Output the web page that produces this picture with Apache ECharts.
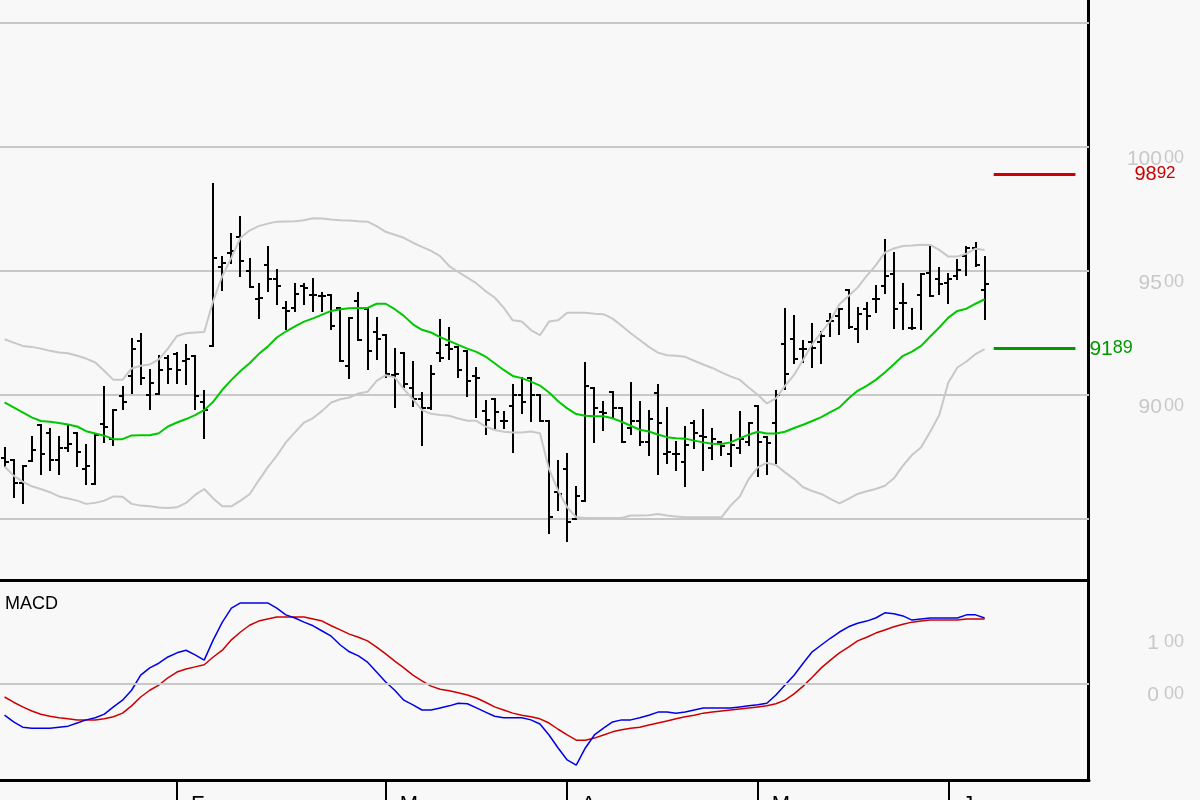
<!DOCTYPE html>
<html>
<head>
<meta charset="utf-8">
<script src="https://cdn.jsdelivr.net/npm/echarts@6/dist/echarts.min.js"></script>
<style>
html, body { margin: 0; padding: 0; background: #f8f8f8; }
#container { width: 1200px; height: 800px; }
</style>
</head>
<body>
<div id="container"></div>
<script>
var dom = document.getElementById("container");
var myChart = echarts.init(dom);

// 109 trading days + empty slots on the right
var slotCount = 120;
var opens  = [8744,8738,8645,8735,8880,8846,8738,8785,8846,8701,8641,8883,8822,8997,9075,9218,8999,9004,9151,9164,9138,9158,8970,9198,9516,9572,9637,9500,9386,9523,9466,9352,9352,9440,9402,9398,9402,9352,9115,9380,9348,9254,9241,9080,9171,9030,8983,8947,9168,9200,9195,9178,9075,8936,8983,8896,8956,8999,9067,8999,8896,8610,8701,8500,8574,9030,8930,9013,8946,8865,8896,8812,9008,8762,8762,8728,8887,8833,8785,8812,8762,8785,8812,8956,8829,8887,9207,9225,9185,9215,9215,9299,9319,9424,9268,9346,9386,9440,9487,9370,9272,9403,9493,9469,9453,9480,9560,9594,9424];
var highs  = [8785,8738,8715,8832,8880,8863,8832,8876,8846,8798,8840,9034,8939,9034,9225,9245,9101,9158,9158,9168,9201,9158,9017,9849,9556,9649,9717,9548,9446,9597,9503,9373,9446,9446,9469,9410,9402,9352,9312,9410,9348,9312,9241,9185,9171,9134,9010,9118,9303,9269,9195,9178,9107,8977,8983,8932,9040,9067,9067,8999,8896,8735,8762,8628,9131,9030,8970,9013,8946,9048,8970,8936,9040,8946,8809,8869,8896,8939,8863,8812,8838,8932,8887,8956,8829,9017,9346,9319,9218,9285,9254,9326,9348,9424,9352,9370,9440,9625,9571,9446,9346,9487,9597,9513,9487,9544,9597,9614,9558];
var lows   = [8715,8587,8563,8735,8681,8697,8681,8775,8715,8641,8641,8812,8798,8943,9010,9044,8943,9004,9050,9050,9044,8943,8825,9198,9423,9533,9480,9436,9312,9419,9366,9265,9339,9366,9339,9339,9265,9138,9068,9222,9104,9144,9071,8950,9034,8956,8798,8943,9138,9144,9071,8997,8913,8842,8865,8865,8771,8927,8896,8896,8444,8536,8413,8500,8574,8809,8860,8910,8809,8842,8798,8758,8681,8726,8697,8634,8785,8697,8742,8758,8715,8766,8798,8675,8681,8726,9026,9128,9135,9111,9128,9236,9245,9272,9214,9265,9335,9413,9272,9265,9265,9265,9399,9406,9372,9469,9482,9520,9305];
var closes = [8731,8645,8715,8778,8762,8738,8785,8801,8769,8715,8840,8869,8939,8970,9185,9068,9048,9101,9104,9101,9144,8997,8939,9554,9532,9580,9540,9436,9390,9469,9440,9340,9406,9430,9402,9398,9280,9138,9312,9222,9178,9225,9084,9084,9044,8983,8947,9084,9151,9185,9101,9057,9068,8900,8930,8896,8999,8970,9000,8896,8507,8601,8489,8591,9037,8946,8927,8946,8812,8896,8809,8905,8887,8770,8762,8800,8846,8830,8822,8795,8798,8822,8887,8812,8806,9000,9083,9147,9185,9191,9238,9300,9346,9276,9326,9319,9386,9480,9346,9370,9272,9487,9399,9446,9469,9504,9594,9525,9446];

var sma = [8970,8950,8930,8910,8895,8892,8887,8881,8873,8854,8845,8836,8822,8822,8837,8838,8838,8846,8873,8889,8903,8919,8939,8973,9021,9061,9097,9128,9165,9195,9232,9256,9277,9296,9309,9324,9339,9346,9350,9351,9351,9368,9368,9346,9319,9285,9263,9252,9233,9218,9202,9187,9174,9155,9128,9101,9077,9068,9054,9038,9010,8975,8946,8923,8916,8914,8914,8906,8892,8876,8860,8853,8841,8830,8826,8824,8816,8809,8803,8802,8809,8825,8840,8852,8845,8845,8852,8867,8880,8895,8911,8931,8950,8986,9017,9037,9061,9091,9124,9158,9175,9198,9236,9272,9312,9339,9348,9368,9386];
var upperBand = [9225,9211,9198,9194,9187,9178,9171,9168,9158,9147,9131,9097,9061,9061,9107,9118,9123,9144,9187,9238,9249,9252,9254,9380,9480,9554,9634,9663,9681,9691,9699,9700,9701,9705,9713,9712,9708,9705,9704,9701,9699,9681,9658,9646,9634,9614,9597,9581,9560,9520,9496,9473,9450,9419,9393,9352,9301,9296,9262,9241,9296,9301,9332,9332,9332,9328,9326,9308,9279,9249,9222,9194,9171,9160,9158,9154,9138,9123,9109,9091,9075,9062,9030,9001,8966,8986,9037,9081,9142,9205,9252,9299,9366,9399,9433,9480,9523,9574,9591,9601,9603,9606,9605,9585,9558,9558,9570,9590,9585];
var lowerBand = [8712,8675,8651,8632,8621,8608,8591,8583,8574,8561,8565,8574,8591,8590,8561,8554,8551,8546,8544,8547,8565,8597,8621,8583,8551,8551,8574,8600,8655,8708,8755,8809,8849,8889,8907,8936,8970,8983,8990,9006,9013,9057,9080,9071,9024,8983,8939,8924,8919,8916,8905,8896,8896,8873,8859,8852,8849,8849,8853,8846,8701,8614,8547,8507,8504,8504,8504,8504,8504,8514,8514,8515,8520,8514,8510,8507,8507,8507,8507,8507,8554,8590,8661,8708,8726,8718,8688,8661,8628,8613,8601,8581,8563,8581,8601,8612,8621,8634,8664,8715,8758,8789,8852,8919,9050,9111,9135,9165,9185];

var macdLine = [-60,-73,-83,-85,-85,-85,-83,-81,-75,-69,-65,-58,-44,-31,-12,17,31,40,52,60,65,56,46,85,119,146,156,156,156,156,146,133,127,119,112,102,92,75,62,54,42,23,4,-12,-31,-40,-50,-50,-46,-42,-37,-38,-46,-54,-62,-65,-65,-65,-69,-77,-98,-123,-146,-156,-123,-98,-85,-73,-69,-69,-65,-60,-54,-54,-56,-54,-50,-46,-46,-46,-46,-44,-42,-40,-37,-21,-2,17,40,62,75,88,100,110,117,121,127,137,135,131,123,125,127,127,127,127,133,133,127];
var signalLine = [-25,-35,-44,-52,-58,-62,-65,-67,-69,-69,-69,-67,-63,-56,-42,-25,-12,-2,12,23,29,33,37,52,65,85,100,113,121,125,129,129,129,129,125,121,112,104,96,90,83,71,58,44,31,17,6,-4,-10,-13,-17,-21,-27,-35,-44,-50,-56,-60,-63,-67,-75,-87,-98,-108,-108,-104,-98,-92,-88,-85,-83,-79,-75,-71,-67,-63,-60,-56,-54,-52,-50,-48,-46,-44,-42,-38,-31,-19,-4,13,31,46,60,71,83,90,98,104,110,115,119,121,123,123,123,123,125,125,125];

var upperTarget = 9892;
var lowerTarget = 9189;
var monthTicks = [19, 42, 62, 83, 104];
var monthLabels = ['F', 'M', 'A', 'M', 'J'];

var categories = [];
for (var i = 0; i < slotCount; i++) categories.push(String(i));

var ohlc = [];
for (var j = 0; j < opens.length; j++) {
    ohlc.push([j, opens[j], highs[j], lows[j], closes[j]]);
}

var fontFamily = 'Liberation Sans, Arial, sans-serif';
var gridGray = '#c8c8c8';

function splitNum(v) {
    var s = String(v);
    var big = s.slice(0, s.length - 2) || '0';
    return { big: big, small: s.slice(-2) };
}

function isMonthTick(idx) {
    return monthTicks.indexOf(idx) >= 0;
}

option = {
    backgroundColor: '#f8f8f8',
    animation: false,
    textStyle: { fontFamily: fontFamily },
    title: {
        text: 'MACD',
        left: 5,
        top: 595,
        padding: 0,
        textStyle: { fontSize: 18, fontWeight: 'normal', color: '#000', fontFamily: fontFamily }
    },
    grid: [
        { left: 0, width: 1089, top: 23, height: 496, outerBoundsMode: 'none', containLabel: false },
        { left: 0, width: 1089, top: 582, height: 198, outerBoundsMode: 'none', containLabel: false }
    ],
    xAxis: [{
        type: 'category',
        gridIndex: 0,
        data: categories,
        axisLine: { show: false },
        axisTick: { show: false },
        axisLabel: { show: false },
        splitLine: { show: false }
    }, {
        type: 'category',
        gridIndex: 1,
        data: categories,
        axisLine: { show: true, onZero: false, lineStyle: { color: '#000', width: 3 } },
        axisTick: {
            show: true,
            alignWithLabel: true,
            interval: function (idx) { return isMonthTick(idx); },
            length: 20,
            lineStyle: { color: '#000', width: 2 }
        },
        axisLabel: {
            show: true,
            interval: function (idx) { return isMonthTick(idx); },
            formatter: function (val, idx) {
                var k = monthTicks.indexOf(Number(val));
                return k >= 0 ? monthLabels[k] : '';
            },
            align: 'left',
            padding: [0, 0, 0, 14],
            margin: 14,
            fontSize: 22,
            color: '#000'
        },
        splitLine: { show: false }
    }],
    yAxis: [{
        type: 'value',
        gridIndex: 0,
        position: 'right',
        min: 8500,
        max: 10500,
        interval: 500,
        axisLine: { show: false },
        axisTick: { show: false },
        splitLine: { show: true, lineStyle: { color: gridGray, width: 2 } },
        axisLabel: {
            show: true,
            align: 'right',
            verticalAlign: 'top',
            margin: 95,
            padding: [2, 0, 0, 0],
            formatter: function (v) {
                if (v !== 9000 && v !== 9500 && v !== 10000) return '';
                var p = splitNum(v);
                return '{b|' + p.big + '}{s|' + p.small + '}';
            },
            rich: {
                b: { fontSize: 21, color: gridGray, fontFamily: fontFamily, verticalAlign: 'top', lineHeight: 22, padding: [0, 2, 0, 0] },
                s: { fontSize: 18, color: gridGray, fontFamily: fontFamily, verticalAlign: 'top', lineHeight: 14 }
            }
        }
    }, {
        type: 'value',
        gridIndex: 1,
        position: 'right',
        min: -184.6,
        max: 196.2,
        axisLine: { show: false },
        axisTick: { show: false },
        splitLine: { show: false },
        axisLabel: {
            show: true,
            align: 'right',
            verticalAlign: 'top',
            margin: 95,
            padding: [1, 0, 0, 0],
            formatter: function (v) {
                if (v === 0) return '{b|0}{s|00}';
                if (v === 100) return '{b|1}{s|00}';
                return '';
            },
            rich: {
                b: { fontSize: 21, color: gridGray, fontFamily: fontFamily, verticalAlign: 'top', lineHeight: 22, padding: [0, 5, 0, 0] },
                s: { fontSize: 18, color: gridGray, fontFamily: fontFamily, verticalAlign: 'top', lineHeight: 14 }
            }
        }
    }],
    series: [{
        name: 'Upper',
        type: 'line',
        xAxisIndex: 0, yAxisIndex: 0,
        data: upperBand,
        symbol: 'none',
        lineStyle: { color: gridGray, width: 2 },
        silent: true
    }, {
        name: 'Lower',
        type: 'line',
        xAxisIndex: 0, yAxisIndex: 0,
        data: lowerBand,
        symbol: 'none',
        lineStyle: { color: gridGray, width: 2 },
        silent: true
    }, {
        name: 'MA',
        type: 'line',
        xAxisIndex: 0, yAxisIndex: 0,
        data: sma,
        symbol: 'none',
        clip: false,
        lineStyle: { color: '#00c800', width: 2 },
        silent: true,
        markLine: {
            silent: true,
            symbol: 'none',
            animation: false,
            data: [
                [{
                    coord: [109, upperTarget],
                    lineStyle: { color: '#cc0000', width: 3, type: 'solid' },
                    label: {
                        show: true, position: 'end', distance: 59,
                        formatter: function () { var p = splitNum(upperTarget); return '{b|' + p.big + '}{s|' + p.small + '}'; },
                        rich: {
                            b: { fontSize: 20, color: '#cc0000', fontFamily: fontFamily, verticalAlign: 'top', lineHeight: 18 },
                            s: { fontSize: 17, color: '#cc0000', fontFamily: fontFamily, verticalAlign: 'top', lineHeight: 16 }
                        }
                    }
                }, { coord: [118, upperTarget] }],
                [{
                    coord: [109, lowerTarget],
                    lineStyle: { color: '#009900', width: 3, type: 'solid' },
                    label: {
                        show: true, position: 'end', distance: 14,
                        formatter: function () { var p = splitNum(lowerTarget); return '{b|' + p.big + '}{s|' + p.small + '}'; },
                        rich: {
                            b: { fontSize: 21, color: '#009900', fontFamily: fontFamily, verticalAlign: 'top', lineHeight: 18 },
                            s: { fontSize: 18, color: '#009900', fontFamily: fontFamily, verticalAlign: 'top', lineHeight: 16 }
                        }
                    }
                }, { coord: [118, lowerTarget] }]
            ]
        }
    }, {
        name: 'OHLC',
        type: 'custom',
        xAxisIndex: 0, yAxisIndex: 0,
        data: ohlc,
        clip: false,
        silent: true,
        encode: { x: 0, y: [1, 2, 3, 4] },
        renderItem: function (params, api) {
            var x = Math.round(api.coord([api.value(0), 0])[0]);
            var yo = Math.round(api.coord([api.value(0), api.value(1)])[1]);
            var yh = Math.round(api.coord([api.value(0), api.value(2)])[1]);
            var yl = Math.round(api.coord([api.value(0), api.value(3)])[1]);
            var yc = Math.round(api.coord([api.value(0), api.value(4)])[1]);
            var st = { stroke: '#000', lineWidth: 2 };
            return {
                type: 'group',
                children: [
                    { type: 'line', shape: { x1: x, y1: yh - 1, x2: x, y2: yl + 1 }, style: st },
                    { type: 'line', shape: { x1: x - 4, y1: yo, x2: x, y2: yo }, style: st },
                    { type: 'line', shape: { x1: x, y1: yc, x2: x + 4, y2: yc }, style: st }
                ]
            };
        }
    }, {
        name: 'MACD',
        type: 'line',
        xAxisIndex: 1, yAxisIndex: 1,
        data: macdLine,
        symbol: 'none',
        lineStyle: { color: '#0000e6', width: 1.5 },
        silent: true,
        z: 3,
        markLine: {
            silent: true,
            symbol: 'none',
            label: { show: false },
            lineStyle: { color: gridGray, width: 2, type: 'solid' },
            data: [{ yAxis: 0 }]
        }
    }, {
        name: 'Signal',
        type: 'line',
        xAxisIndex: 1, yAxisIndex: 1,
        data: signalLine,
        symbol: 'none',
        lineStyle: { color: '#cc0000', width: 1.5 },
        silent: true,
        z: 2
    }],
    graphic: [
        { type: 'rect', shape: { x: 0, y: 579, width: 1090, height: 3 }, style: { fill: '#000' }, silent: true },
        { type: 'rect', shape: { x: 1087, y: 0, width: 3, height: 782 }, style: { fill: '#000' }, silent: true }
    ]
};

if (option && typeof option === "object") {
    myChart.setOption(option, true);
}
</script>
</body>
</html>
